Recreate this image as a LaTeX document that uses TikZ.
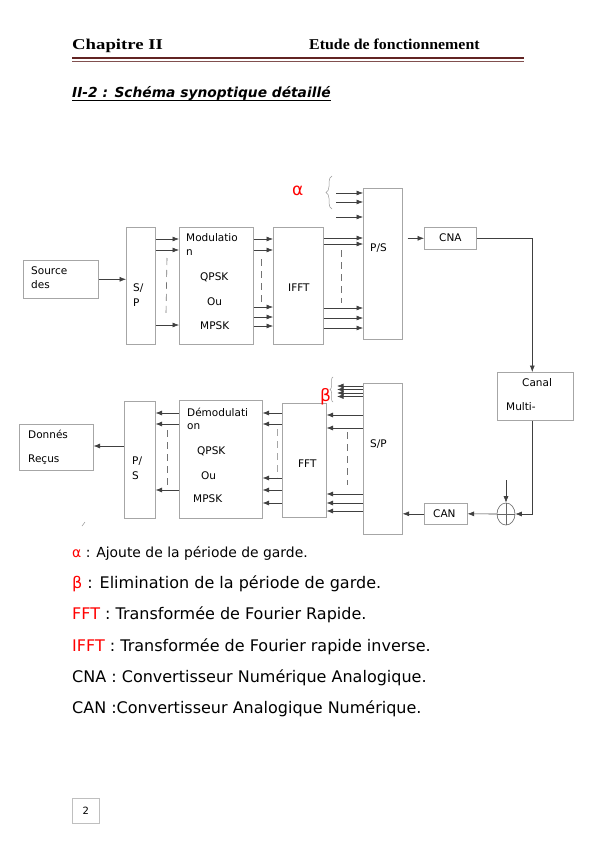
\documentclass[tikz,border=0pt]{standalone}
\usepackage{fontspec}
\setmainfont{DejaVu Sans}
\newfontfamily\chapfont[FakeStretch=1.25]{Liberation Serif}
\newfontfamily\hdrfont[FakeStretch=1.06]{Liberation Serif}
\usetikzlibrary{arrows.meta, positioning, shapes.geometric, decorations.pathreplacing}
\definecolor{hdrred}{HTML}{622423}

\tikzset{
  blk/.style={draw=black!35, line width=0.6pt, inner sep=0pt, anchor=north west},
  txt/.style={font=\fontsize{10.5}{12}\selectfont, inner sep=0pt, anchor=base west},
  leg/.style={font=\fontsize{16}{19}\selectfont, inner sep=0pt, anchor=base west},
  arr/.style={-{Latex[length=6.5pt,width=5pt]}, draw=black!75, line width=0.6pt},
  dsh/.style={draw=black!55, line width=0.6pt, dash pattern=on 7pt off 5pt},
  brc/.style={draw=black!40, line width=0.5pt, decorate, decoration={brace, amplitude=6pt}},
}

\begin{document}
\begin{tikzpicture}[x=1pt, y=-1pt]
  \fill[white] (0,0) rectangle (595,842);
  \useasboundingbox (0,0) rectangle (595,842);

  % page header
  \node[inner sep=0pt, anchor=base west, font=\chapfont\bfseries\fontsize{15}{18}\selectfont] (chap) at (72,50) {Chapitre II};
  \node[inner sep=0pt, anchor=base west, font=\hdrfont\bfseries\fontsize{15}{18}\selectfont] (etude) at (309,50) {Etude de fonctionnement};
  \draw[hdrred, line width=2.4pt] (72,58.3) -- (524,58.3);
  \draw[hdrred!80, line width=0.7pt] (72,61) -- (524,61);
  \node[inner sep=0pt, anchor=base west, font=\bfseries\itshape\fontsize{13.8}{16}\selectfont] (ttl) at (72,98) {II-2 : Schéma synoptique détaillé};
  \draw[line width=0.9pt] ([yshift=-2.4pt]ttl.base west) -- ([yshift=-2.4pt]ttl.base east);

  % emission chain
  \node[blk, minimum width=75pt, minimum height=38pt] (src) at (23,260) {};
  \node[blk, minimum width=29pt, minimum height=117pt] (sp1) at (126,227) {};
  \node[blk, minimum width=74pt, minimum height=117pt] (mod) at (179,227) {};
  \node[blk, minimum width=50pt, minimum height=117pt] (ifft) at (273,227) {};
  \node[blk, minimum width=39pt, minimum height=151pt] (ps1) at (363,188) {};
  \node[blk, minimum width=52pt, minimum height=22pt] (cna) at (424,227) {};
  \node[blk, minimum width=76pt, minimum height=48pt] (canal) at (497,372) {};

  \node[txt] (srcA) at (31,274) {Source};
  \node[txt] (srcB) at (31,288) {des};
  \node[txt] (sp1A) at (133,291) {S/};
  \node[txt] (sp1B) at (133,306) {P};
  \node[txt] (modA) at (186,241) {Modulatio};
  \node[txt] (modB) at (186,255) {n};
  \node[txt] (modC) at (200,280) {QPSK};
  \node[txt] (modD) at (207,305) {Ou};
  \node[txt] (modE) at (200,329) {MPSK};
  \node[txt] (ifftA) at (288,291) {IFFT};
  \node[txt] (ps1A) at (370,251) {P/S};
  \node[txt] (cnaA) at (439,241) {CNA};
  \node[txt] (canA) at (522,386) {Canal};
  \node[txt] (canB) at (506,410) {Multi-};

  \draw[arr] (src.east) -- (sp1.west |- src.east);
  \foreach \y in {239,250,325}
    \draw[arr] (sp1.east |- 0,\y) -- (mod.west |- 0,\y);
  \foreach \y in {239,250,307,317,326}
    \draw[arr] (mod.east |- 0,\y) -- (ifft.west |- 0,\y);
  \foreach \y in {238,244,308,318,328}
    \draw[arr] (ifft.east |- 0,\y) -- (ps1.west |- 0,\y);
  \draw[dsh] (167,258) -- (166,313);
  \draw[dsh] (261,259) -- (261,303);
  \draw[dsh] (341,250) -- (341,303);

  % guard interval (alpha)
  \coordinate (ga) at (336,0);
  \foreach \y in {193,202,217}
    \draw[arr] (ga |- 0,\y) -- (ps1.west |- 0,\y);
  \draw[brc] (332,209) -- (332,176);
  \node[inner sep=0pt, anchor=base west, text=red, font=\fontsize{17}{20}\selectfont] (alpha) at (292,196) {α};

  \draw[arr] ([xshift=5pt]ps1.east |- cna.west) -- (cna.west);
  \draw[arr] (cna.east) -| ([xshift=-3pt]canal.north);

  % reception chain
  \node[blk, minimum width=74pt, minimum height=46pt] (don) at (19,424) {};
  \node[blk, minimum width=31pt, minimum height=117pt] (ps2) at (124,401) {};
  \node[blk, minimum width=83pt, minimum height=118pt] (dem) at (179,400) {};
  \node[blk, minimum width=44pt, minimum height=114pt] (fft) at (282,403) {};
  \node[blk, minimum width=39pt, minimum height=151pt] (sp2) at (363,383) {};
  \node[blk, minimum width=43pt, minimum height=21pt] (can) at (424,503) {};
  \node[draw=black!60, line width=0.6pt, ellipse, minimum width=18pt, minimum height=22pt, inner sep=0pt] (sum) at (506,514) {};
  \draw[black!60, line width=0.6pt] (sum.north) -- (sum.south) (sum.west) -- (sum.east);

  \node[txt] (donA) at (28,438) {Donnés};
  \node[txt] (donB) at (28,462) {Reçus};
  \node[txt] (ps2A) at (132,464) {P/};
  \node[txt] (ps2B) at (132,479) {S};
  \node[txt] (demA) at (187,416) {Démodulati};
  \node[txt] (demB) at (187,429) {on};
  \node[txt] (demC) at (197,454) {QPSK};
  \node[txt] (demD) at (201,479) {Ou};
  \node[txt] (demE) at (193,502) {MPSK};
  \node[txt] (fftA) at (298,467) {FFT};
  \node[txt] (sp2A) at (370,447) {S/P};
  \node[txt] (canC) at (433,517) {CAN};

  \draw[arr] ([xshift=-3pt]canal.south) |- (sum.east);
  \coordinate (nz) at (506,480);
  \draw[arr] (nz) -- (sum.north);
  \draw[arr] (sum.west) -- (can.east);
  \draw[arr] (can.west) -- (sp2.east |- can.west);
  \foreach \y in {415,428,494,503,511}
    \draw[arr] (sp2.west |- 0,\y) -- (fft.east |- 0,\y);
  \foreach \y in {413,424,478,490,503}
    \draw[arr] (fft.west |- 0,\y) -- (dem.east |- 0,\y);
  \foreach \y in {413,424,490}
    \draw[arr] (dem.west |- 0,\y) -- (ps2.east |- 0,\y);
  \draw[arr] (ps2.west |- 0,446) -- (don.east |- 0,446);
  \draw[dsh] (347,432) -- (347,485);
  \draw[dsh, black!35] (277,429) -- (277,477);
  \draw[dsh] (167,430) -- (167,487);
  \draw[black!50, line width=0.4pt] (82,526) -- (85,522);

  % guard interval removal (beta)
  \coordinate (gb) at (337,0);
  \foreach \y in {386,389.5,393,396.5}
    \draw[arr] (sp2.west |- 0,\y) -- (gb |- 0,\y);
  \draw[brc, decoration={amplitude=3pt}] (333,402) -- (333,377);
  \node[inner sep=0pt, anchor=base west, text=red, font=\fontsize{17}{20}\selectfont] (beta) at (320,401) {β};

  % legend
  \node[leg, font=\fontsize{13.9}{16}\selectfont] (l1) at (72,557) {\textcolor{red}{α} : Ajoute de la période de garde.};
  \node[leg] (l2) at (72,588) {\textcolor{red}{β} : Elimination de la période de garde.};
  \node[leg] (l3) at (72,619) {\textcolor{red}{FFT} : Transformée de Fourier Rapide.};
  \node[leg] (l4) at (72,651) {\textcolor{red}{IFFT} : Transformée de Fourier rapide inverse.};
  \node[leg] (l5) at (72,682) {CNA : Convertisseur Numérique Analogique.};
  \node[leg] (l6) at (72,713) {CAN :Convertisseur Analogique Numérique.};

  % page number
  \node[blk, draw=black!25, minimum width=27pt, minimum height=25pt] (pg) at (72,798) {};
  \node[inner sep=0pt, font=\fontsize{10}{12}\selectfont] (pgn) at (pg.center) {2};
\end{tikzpicture}
\end{document}
